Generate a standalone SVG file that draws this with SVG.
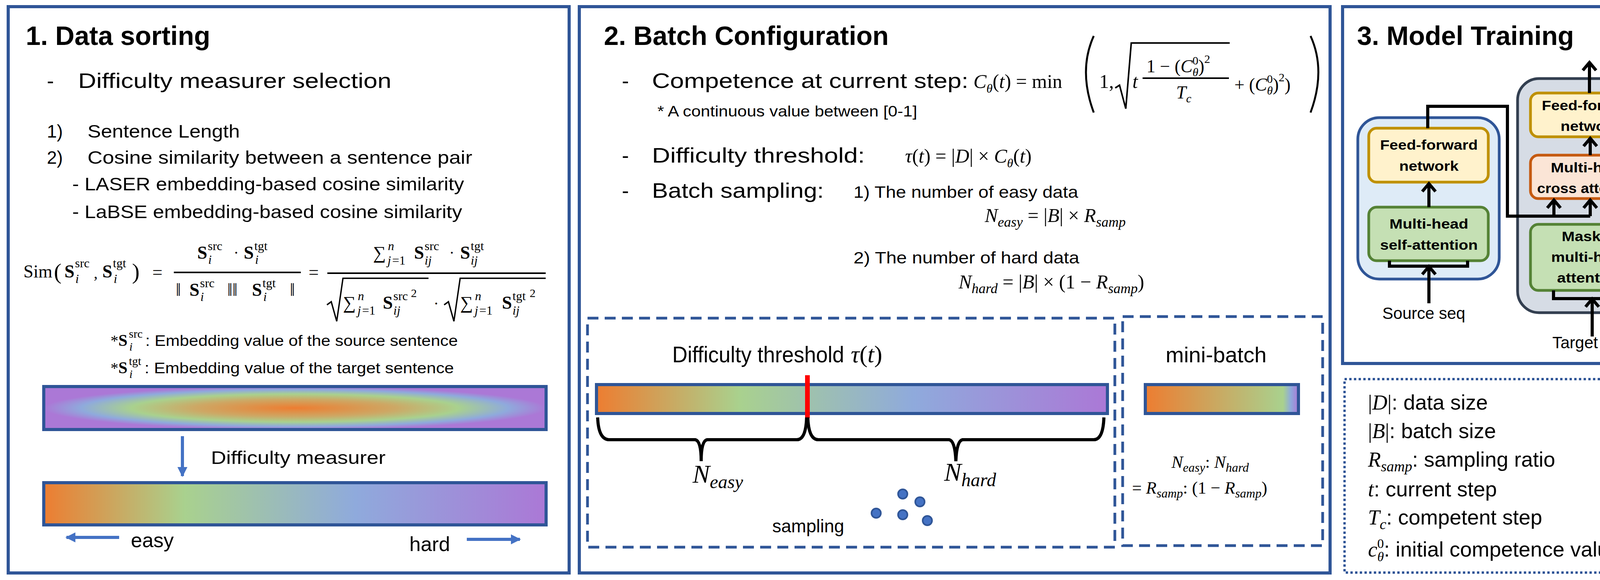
<svg xmlns="http://www.w3.org/2000/svg" width="4303" height="1484" viewBox="0 0 4303 1484">
<style>
.s{font-family:"Liberation Sans",Arial,sans-serif;fill:#000}
.b{font-family:"Liberation Sans",Arial,sans-serif;font-weight:bold;fill:#000}
.m{font-family:"Liberation Serif","Times New Roman",serif;fill:#000}
.i{font-family:"Liberation Serif","Times New Roman",serif;font-style:italic;fill:#000}
.mb{font-family:"Liberation Serif","Times New Roman",serif;font-weight:bold;fill:#000}
.it{font-style:italic}
.panel{fill:#fff;stroke:#2F5597;stroke-width:8}
.dash{fill:none;stroke:#2F5597;stroke-width:7;stroke-dasharray:28 16}
.bar{stroke:#2F5597;stroke-width:8}
.blk{fill:none;stroke:#000;stroke-width:8}
.arr{fill:none;stroke:#000;stroke-width:8;stroke-linejoin:miter}
.nt{font-family:"Liberation Sans",Arial,sans-serif;font-weight:bold;font-size:35px;text-anchor:middle}
</style>
<defs>
<linearGradient id="g1" x1="0" x2="1" y1="0" y2="0">
<stop offset="0" stop-color="#ED7D31"/><stop offset="0.28" stop-color="#A9D18E"/><stop offset="0.62" stop-color="#8FAADC"/><stop offset="1" stop-color="#AB78D6"/>
</linearGradient>
<linearGradient id="g3" x1="0" x2="1" y1="0" y2="0">
<stop offset="0" stop-color="#ED7D31"/><stop offset="0.9" stop-color="#A9D18E"/><stop offset="0.95" stop-color="#8FAADC"/><stop offset="1" stop-color="#AB78D6"/>
</linearGradient>
<radialGradient id="g2" cx="0.5" cy="0.5" r="0.5">
<stop offset="0" stop-color="#ED7D31"/><stop offset="0.4" stop-color="#CDA865"/><stop offset="0.65" stop-color="#A9D18E"/><stop offset="0.85" stop-color="#8FAADC"/><stop offset="1" stop-color="#AB78D6"/>
</radialGradient>
<marker id="ah" viewBox="0 0 10 10" refX="9" refY="5" markerWidth="3.2" markerHeight="3.2" orient="auto"><path d="M0,0 L10,5 L0,10 z" fill="#4472C4"/></marker>
</defs>

<!-- Panel 1 -->
<g id="panel1">
<rect class="panel" x="21" y="17" width="1436" height="1449"/>
<text class="b" x="66" y="115" font-size="68">1. Data sorting</text>
<text class="s" x="120" y="225" font-size="54">-</text>
<text class="s" x="200" y="225" font-size="54" textLength="802" lengthAdjust="spacingAndGlyphs">Difficulty measurer selection</text>
<text class="s" x="120" y="352" font-size="46">1)</text>
<text class="s" x="224" y="352" font-size="46" textLength="390" lengthAdjust="spacingAndGlyphs">Sentence Length</text>
<text class="s" x="120" y="419" font-size="46">2)</text>
<text class="s" x="224" y="419" font-size="46" textLength="985" lengthAdjust="spacingAndGlyphs">Cosine similarity between a sentence pair</text>
<text class="s" x="185" y="487" font-size="46" textLength="1003" lengthAdjust="spacingAndGlyphs">- LASER embedding-based cosine similarity</text>
<text class="s" x="185" y="558" font-size="46" textLength="998" lengthAdjust="spacingAndGlyphs">- LaBSE embedding-based cosine similarity</text>
</g>
<g id="formula-sim">
<text class="m" x="60" y="710" font-size="46">Sim</text>
<text class="m" x="138" y="714" font-size="58">(</text>
<text class="mb" x="165" y="710" font-size="46">S</text><text class="m" x="192" y="684" font-size="32">src</text><text class="i" x="193" y="724" font-size="32">i</text>
<text class="m" x="240" y="712" font-size="40">,</text>
<text class="mb" x="262" y="710" font-size="46">S</text><text class="m" x="289" y="684" font-size="32">tgt</text><text class="i" x="291" y="724" font-size="32">i</text>
<text class="m" x="338" y="714" font-size="58">)</text>
<text class="m" x="390" y="712" font-size="46">=</text>
<text class="mb" x="505" y="662" font-size="46">S</text><text class="m" x="532" y="640" font-size="32">src</text><text class="i" x="533" y="675" font-size="32">i</text>
<text class="m" x="598" y="660" font-size="40">·</text>
<text class="mb" x="624" y="662" font-size="46">S</text><text class="m" x="651" y="640" font-size="32">tgt</text><text class="i" x="653" y="675" font-size="32">i</text>
<line x1="445" y1="697" x2="770" y2="697" stroke="#000" stroke-width="4"/>
<text class="m" x="450" y="757" font-size="46">‖</text>
<text class="mb" x="485" y="757" font-size="46">S</text><text class="m" x="512" y="735" font-size="32">src</text><text class="i" x="513" y="770" font-size="32">i</text>
<text class="m" x="582" y="757" font-size="46">‖‖</text>
<text class="mb" x="645" y="757" font-size="46">S</text><text class="m" x="672" y="735" font-size="32">tgt</text><text class="i" x="674" y="770" font-size="32">i</text>
<text class="m" x="742" y="757" font-size="46">‖</text>
<text class="m" x="790" y="712" font-size="46">=</text>
<text class="m" x="955" y="662" font-size="46">∑</text><text class="i" x="993" y="640" font-size="32">n</text><text class="i" x="992" y="677" font-size="32">j</text><text class="m" x="1004" y="677" font-size="32">=1</text>
<text class="mb" x="1060" y="662" font-size="46">S</text><text class="m" x="1087" y="640" font-size="32">src</text><text class="i" x="1087" y="677" font-size="32">ij</text>
<text class="m" x="1150" y="660" font-size="40">·</text>
<text class="mb" x="1178" y="662" font-size="46">S</text><text class="m" x="1205" y="640" font-size="32">tgt</text><text class="i" x="1205" y="677" font-size="32">ij</text>
<line x1="838" y1="699" x2="1397" y2="699" stroke="#000" stroke-width="4"/>
<path d="M837,780 L848,772 L862,822 L878,712 L1097,712" fill="none" stroke="#000" stroke-width="3.5"/>
<text class="m" x="878" y="790" font-size="46">∑</text><text class="i" x="916" y="768" font-size="32">n</text><text class="i" x="915" y="805" font-size="32">j</text><text class="m" x="927" y="805" font-size="32">=1</text>
<text class="mb" x="980" y="790" font-size="46">S</text><text class="m" x="1007" y="768" font-size="32">src</text><text class="i" x="1007" y="805" font-size="32">ij</text><text class="m" x="1052" y="760" font-size="30">2</text>
<text class="m" x="1110" y="790" font-size="40">·</text>
<path d="M1137,780 L1148,772 L1162,822 L1178,712 L1397,712" fill="none" stroke="#000" stroke-width="3.5"/>
<text class="m" x="1178" y="790" font-size="46">∑</text><text class="i" x="1216" y="768" font-size="32">n</text><text class="i" x="1215" y="805" font-size="32">j</text><text class="m" x="1227" y="805" font-size="32">=1</text>
<text class="mb" x="1285" y="790" font-size="46">S</text><text class="m" x="1312" y="768" font-size="32">tgt</text><text class="i" x="1312" y="805" font-size="32">ij</text><text class="m" x="1356" y="760" font-size="30">2</text>
</g>
<g id="footnotes">
<text class="m" x="283" y="885" font-size="40">*</text><text class="mb" x="303" y="885" font-size="42">S</text><text class="m" x="330" y="864" font-size="30">src</text><text class="i" x="331" y="897" font-size="30">i</text>
<text class="s" x="372" y="885" font-size="38" textLength="800" lengthAdjust="spacingAndGlyphs">: Embedding value of the source sentence</text>
<text class="m" x="283" y="955" font-size="40">*</text><text class="mb" x="303" y="955" font-size="42">S</text><text class="m" x="330" y="934" font-size="30">tgt</text><text class="i" x="331" y="967" font-size="30">i</text>
<text class="s" x="370" y="955" font-size="38" textLength="792" lengthAdjust="spacingAndGlyphs">: Embedding value of the target sentence</text>
</g>
<g id="bars1">
<rect class="bar" x="112" y="989" width="1286" height="110" fill="url(#g2)"/>
<line x1="467" y1="1116" x2="467" y2="1218" stroke="#4472C4" stroke-width="8" marker-end="url(#ah)"/>
<text class="s" x="540" y="1187" font-size="46" textLength="447" lengthAdjust="spacingAndGlyphs">Difficulty measurer</text>
<rect class="bar" x="112" y="1235" width="1286" height="108" fill="url(#g1)"/>
<line x1="305" y1="1375" x2="170" y2="1375" stroke="#4472C4" stroke-width="8" marker-end="url(#ah)"/>
<text class="s" x="335" y="1400" font-size="52">easy</text>
<text class="s" x="1048" y="1410" font-size="52">hard</text>
<line x1="1195" y1="1380" x2="1331" y2="1380" stroke="#4472C4" stroke-width="8" marker-end="url(#ah)"/>
</g>

<!-- Panel 2 -->
<g id="panel2">
<rect class="panel" x="1483" y="17" width="1922" height="1449"/>
<text class="b" x="1546" y="115" font-size="68">2. Batch Configuration</text>
<text class="s" x="1592" y="225" font-size="54">-</text>
<text class="s" x="1669" y="225" font-size="54" textLength="810" lengthAdjust="spacingAndGlyphs">Competence at current step:</text>
<text class="s" x="1683" y="298" font-size="38" textLength="665" lengthAdjust="spacingAndGlyphs">* A continuous value between [0-1]</text>
<text class="s" x="1592" y="416" font-size="54">-</text>
<text class="s" x="1669" y="416" font-size="54" textLength="545" lengthAdjust="spacingAndGlyphs">Difficulty threshold:</text>
<text class="s" x="1592" y="506" font-size="54">-</text>
<text class="s" x="1669" y="506" font-size="54" textLength="440" lengthAdjust="spacingAndGlyphs">Batch sampling:</text>
<text class="s" x="2185" y="506" font-size="42" textLength="575" lengthAdjust="spacingAndGlyphs">1) The number of easy data</text>
<text class="s" x="2185" y="674" font-size="42" textLength="578" lengthAdjust="spacingAndGlyphs">2) The number of hard data</text>
</g>
<g id="formula-comp">
<text class="m" x="2492" y="225" font-size="50"><tspan class="it">C</tspan><tspan class="it" font-size="32" baseline-shift="-12">θ</tspan>(<tspan class="it">t</tspan>) = min</text>
<path d="M2800,92 Q2760,180 2800,288" fill="none" stroke="#000" stroke-width="5"/>
<text class="m" x="2814" y="225" font-size="50">1,</text>
<path d="M2855,225 L2866,218 L2882,278 L2896,110 L3148,110" fill="none" stroke="#000" stroke-width="4"/>
<text class="i" x="2899" y="225" font-size="50">t</text>
<text class="m" x="2935" y="185" font-size="46">1 − (<tspan class="it">C</tspan><tspan class="it" font-size="30" baseline-shift="-10">θ</tspan><tspan dx="-15" font-size="30" baseline-shift="20">0</tspan>)<tspan font-size="30" baseline-shift="24">2</tspan></text>
<line x1="2925" y1="200" x2="3146" y2="200" stroke="#000" stroke-width="4"/>
<text class="m" x="3011" y="252" font-size="46"><tspan class="it">T</tspan><tspan class="it" font-size="30" baseline-shift="-10">c</tspan></text>
<text class="m" x="3160" y="232" font-size="46">+ (<tspan class="it">C</tspan><tspan class="it" font-size="30" baseline-shift="-10">θ</tspan><tspan dx="-15" font-size="30" baseline-shift="20">0</tspan>)<tspan font-size="30" baseline-shift="24">2</tspan>)</text>
<path d="M3355,92 Q3395,180 3355,288" fill="none" stroke="#000" stroke-width="5"/>
</g>
<g id="formula-tau">
<text class="m" x="2317" y="416" font-size="50"><tspan class="it">τ</tspan>(<tspan class="it">t</tspan>) = |<tspan class="it">D</tspan>| × <tspan class="it">C</tspan><tspan class="it" font-size="32" baseline-shift="-12">θ</tspan>(<tspan class="it">t</tspan>)</text>
<text class="m" x="2521" y="568" font-size="50"><tspan class="it">N</tspan><tspan class="it" font-size="36" baseline-shift="-12">easy</tspan> = |<tspan class="it">B</tspan>| × <tspan class="it">R</tspan><tspan class="it" font-size="36" baseline-shift="-12">samp</tspan></text>
<text class="m" x="2454" y="738" font-size="50"><tspan class="it">N</tspan><tspan class="it" font-size="36" baseline-shift="-12">hard</tspan> = |<tspan class="it">B</tspan>| × (1 − <tspan class="it">R</tspan><tspan class="it" font-size="36" baseline-shift="-12">samp</tspan>)</text>
</g>
<g id="threshold-box">
<rect class="dash" x="1504" y="814" width="1350" height="586"/>
<text class="s" x="1721" y="927" font-size="58" textLength="440" lengthAdjust="spacingAndGlyphs">Difficulty threshold</text>
<text class="m" x="2178" y="927" font-size="62"><tspan class="it">τ</tspan>(<tspan class="it">t</tspan>)</text>
<rect class="bar" x="1527" y="984" width="1308" height="74" fill="url(#g1)"/>
<line x1="2067" y1="960" x2="2067" y2="1070" stroke="#FF0000" stroke-width="12"/>
<path class="blk" d="M1530,1068 Q1532,1125 1560,1125 L1780,1125 Q1795,1128 1795,1180 Q1795,1128 1810,1125 L2040,1125 Q2063,1125 2065,1068"/>
<path class="blk" d="M2068,1068 Q2070,1125 2095,1125 L2430,1125 Q2445,1128 2447,1180 Q2449,1128 2464,1125 L2800,1125 Q2824,1125 2826,1068"/>
<text class="m" x="1773" y="1235" font-size="66"><tspan class="it">N</tspan><tspan class="it" font-size="48" baseline-shift="-14">easy</tspan></text>
<text class="m" x="2417" y="1230" font-size="66"><tspan class="it">N</tspan><tspan class="it" font-size="48" baseline-shift="-14">hard</tspan></text>
<text class="s" x="1977" y="1362" font-size="46">sampling</text>
<g fill="#4472C4" stroke="#2F5597" stroke-width="4">
<circle cx="2243" cy="1313" r="12"/><circle cx="2311" cy="1264" r="12"/><circle cx="2355" cy="1284" r="12"/><circle cx="2311" cy="1317" r="12"/><circle cx="2374" cy="1332" r="12"/>
</g>
</g>
<g id="minibatch-box">
<rect class="dash" x="2874" y="810" width="512" height="586"/>
<text class="s" x="2984" y="927" font-size="56">mini-batch</text>
<rect class="bar" x="2932" y="984" width="392" height="74" fill="url(#g3)"/>
<text class="m" x="2999" y="1197" font-size="44"><tspan class="it">N</tspan><tspan class="it" font-size="32" baseline-shift="-10">easy</tspan>: <tspan class="it">N</tspan><tspan class="it" font-size="32" baseline-shift="-10">hard</tspan></text>
<text class="m" x="2898" y="1263" font-size="44">= <tspan class="it">R</tspan><tspan class="it" font-size="32" baseline-shift="-10">samp</tspan>: (1 − <tspan class="it">R</tspan><tspan class="it" font-size="32" baseline-shift="-10">samp</tspan>)</text>
</g>

<!-- Panel 3 -->
<g id="panel3">
<rect class="panel" x="3437" y="17" width="846" height="913"/>
<text class="b" x="3474" y="115" font-size="68">3. Model Training</text>
</g>
<g id="encoder">
<rect x="3476" y="301" width="362" height="413" rx="55" fill="#DEEBF7" stroke="#2F5597" stroke-width="7"/>
</g>
<g id="decoder">
<rect x="3885" y="201" width="366" height="599" rx="55" fill="#D6DCE5" stroke="#333F50" stroke-width="7"/>
</g>
<g id="enc-ffn">
<rect x="3504" y="328" width="306" height="138" rx="20" fill="#FFF2CC" stroke="#BF9000" stroke-width="7"/>
<text class="nt" x="3658" y="383" textLength="250" lengthAdjust="spacingAndGlyphs">Feed-forward</text><text class="nt" x="3658" y="437" textLength="152" lengthAdjust="spacingAndGlyphs">network</text>
</g>
<g id="enc-self">
<rect x="3504" y="530" width="306" height="137" rx="20" fill="#C5E0B4" stroke="#548235" stroke-width="7"/>
<text class="nt" x="3658" y="585" textLength="202" lengthAdjust="spacingAndGlyphs">Multi-head</text><text class="nt" x="3658" y="639" textLength="250" lengthAdjust="spacingAndGlyphs">self-attention</text>
</g>
<g id="dec-ffn">
<rect x="3918" y="238" width="299" height="112" rx="20" fill="#FFF2CC" stroke="#BF9000" stroke-width="7"/>
<text class="nt" x="4071" y="282" textLength="248" lengthAdjust="spacingAndGlyphs">Feed-forward</text><text class="nt" x="4071" y="335" textLength="152" lengthAdjust="spacingAndGlyphs">network</text>
</g>
<g id="dec-cross">
<rect x="3918" y="397" width="299" height="111" rx="20" fill="#FBE5D6" stroke="#C55A11" stroke-width="7"/>
<text class="nt" x="4071" y="441" textLength="202" lengthAdjust="spacingAndGlyphs">Multi-head</text><text class="nt" x="4071" y="494" textLength="272" lengthAdjust="spacingAndGlyphs">cross attention</text>
</g>
<g id="dec-masked">
<rect x="3918" y="574" width="299" height="169" rx="20" fill="#C5E0B4" stroke="#548235" stroke-width="7"/>
<text class="nt" x="4071" y="617" textLength="146" lengthAdjust="spacingAndGlyphs">Masked</text><text class="nt" x="4071" y="670" textLength="200" lengthAdjust="spacingAndGlyphs">multi-head</text><text class="nt" x="4071" y="723" textLength="170" lengthAdjust="spacingAndGlyphs">attention</text>
</g>
<text class="s" x="3645" y="816" font-size="42" text-anchor="middle">Source seq</text>
<text class="s" x="4072" y="891" font-size="42" text-anchor="middle">Target seq</text>
<g id="connectors">
<path class="arr" d="M3658,530 L3658,470 M3641,490 L3658,470 L3675,490"/>
<path class="arr" d="M3557,667 L3557,681 L3757,681 L3757,667 M3658,776 L3658,681 M3641,702 L3658,682 L3675,702"/>
<path class="arr" d="M3655,328 L3655,272 L3859,272 L3859,553 L4071,553 M3978,553 L3978,512 M3961,532 L3978,512 L3995,532 M4071,553 L4071,512 M4054,532 L4071,512 L4088,532"/>
<path class="arr" d="M4131,574 L4131,542 L4169,542 L4169,512 M4152,532 L4169,512 L4186,532"/>
<path class="arr" d="M4071,397 L4071,354 M4054,374 L4071,354 L4088,374"/>
<path class="arr" d="M4069,238 L4069,160 M4052,180 L4069,160 L4086,180"/>
<path class="arr" d="M3977,743 L3977,764 L4174,764 L4174,743 M4076,861 L4076,764 M4059,785 L4076,765 L4093,785"/>
</g>
<g id="legend">
<rect x="3442" y="970" width="837" height="495" fill="none" stroke="#2F5597" stroke-width="6" stroke-dasharray="6 6"/>
<text class="m" x="3502" y="1048" font-size="54">|<tspan class="it">D</tspan>|<tspan font-family="Liberation Sans">: data size</tspan></text>
<text class="m" x="3502" y="1121" font-size="54">|<tspan class="it">B</tspan>|<tspan font-family="Liberation Sans">: batch size</tspan></text>
<text class="m" x="3502" y="1194" font-size="54"><tspan class="it">R</tspan><tspan class="it" font-size="38" baseline-shift="-12">samp</tspan><tspan font-family="Liberation Sans">: sampling ratio</tspan></text>
<text class="m" x="3502" y="1270" font-size="54"><tspan class="it">t</tspan><tspan font-family="Liberation Sans">: current step</tspan></text>
<text class="m" x="3502" y="1342" font-size="54"><tspan class="it">T</tspan><tspan class="it" font-size="38" baseline-shift="-12">c</tspan><tspan font-family="Liberation Sans">: competent step</tspan></text>
<text class="m" x="3502" y="1424" font-size="54"><tspan class="it">c</tspan><tspan class="it" font-size="34" baseline-shift="-12">θ</tspan><tspan dx="-17" font-size="34" baseline-shift="22">0</tspan><tspan font-family="Liberation Sans">: initial competence value</tspan></text>
</g>
</svg>
